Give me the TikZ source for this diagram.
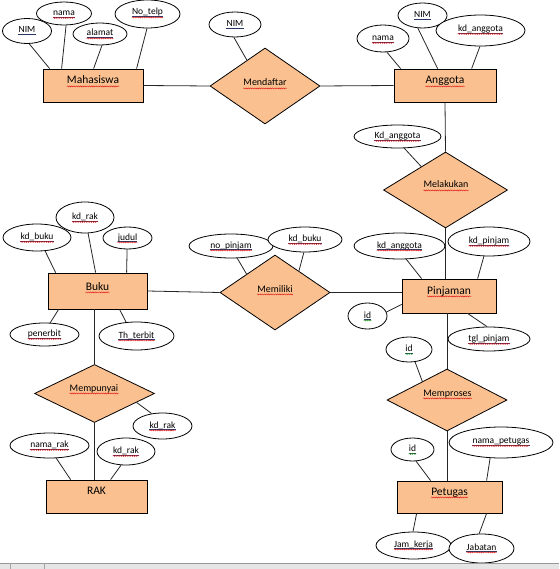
\documentclass[tikz,border=0pt]{standalone}
\usepackage{fontspec}
\setmainfont{Carlito}
\usetikzlibrary{shapes.geometric,decorations.pathmorphing}
\definecolor{erfill}{RGB}{250,192,144}
\definecolor{ulc}{RGB}{40,55,100}
\definecolor{wvred}{RGB}{225,25,25}
\definecolor{wvgreen}{RGB}{40,150,40}
\begin{document}
\begin{tikzpicture}[x=1pt,y=-1pt,
  ent/.style={rectangle, draw=black, fill=erfill, line width=0.8pt, inner sep=0pt},
  rel/.style={diamond, draw=black, fill=erfill, line width=0.8pt, inner sep=0pt},
  attr/.style={ellipse, draw=black, fill=white, line width=0.8pt, inner sep=0pt},
  etxt/.style={anchor=base, inner sep=0pt, font=\fontsize{11.5}{13}\selectfont},
  rtxt/.style={anchor=base, inner sep=0pt, font=\fontsize{10}{12}\selectfont},
  atxt/.style={anchor=base, inner sep=0pt, font=\fontsize{9.5}{11}\selectfont},
  conn/.style={draw=black!85, line width=0.8pt},
  uline/.style={draw=ulc, line width=0.5pt},
  rwave/.style={draw=wvred, line width=0.45pt, decorate, decoration={snake, amplitude=0.55pt, segment length=2.2pt}},
  gwave/.style={draw=wvgreen, line width=0.45pt, decorate, decoration={snake, amplitude=0.55pt, segment length=2.2pt}}
]
\useasboundingbox (0,0) rectangle (559,569);
\fill[white] (0,0) rectangle (559,569);

% entities
\node[ent, minimum width=100, minimum height=33] (mhs) at (93,85.5) {};
\node[ent, minimum width=102, minimum height=33] (ang) at (445,85.5) {};
\node[ent, minimum width=99, minimum height=36] (buku) at (97.5,291) {};
\node[ent, minimum width=94, minimum height=34] (pinj) at (449,296) {};
\node[ent, minimum width=101, minimum height=33] (rak) at (96.5,496.5) {};
\node[ent, minimum width=105, minimum height=32] (pet) at (449.5,497) {};

% relationships
\node[rel, minimum width=110, minimum height=76] (mendaftar) at (265,86) {};
\node[rel, minimum width=124, minimum height=76] (melakukan) at (445.5,190) {};
\node[rel, minimum width=110, minimum height=75] (memiliki) at (275,292.5) {};
\node[rel, minimum width=120, minimum height=62] (memproses) at (447,400) {};
\node[rel, minimum width=120, minimum height=58] (mempunyai) at (94.5,393.5) {};

% attributes
\node[attr, minimum width=49, minimum height=25] (mnim) at (27,31) {};
\node[attr, minimum width=55, minimum height=23] (mnama) at (64,13.5) {};
\node[attr, minimum width=54, minimum height=22] (malamat) at (100,34) {};
\node[attr, minimum width=65, minimum height=28] (mnotelp) at (147.5,14) {};
\node[attr, minimum width=52, minimum height=25] (dnim) at (235,24.5) {};
\node[attr, minimum width=52, minimum height=27] (anama) at (383,38.5) {};
\node[attr, minimum width=49, minimum height=25] (anim) at (422.5,15.5) {};
\node[attr, minimum width=89, minimum height=31] (akd) at (480.5,30.5) {};
\node[attr, minimum width=87, minimum height=23] (lkd) at (397.5,136.5) {};
\node[attr, minimum width=68, minimum height=27] (bkdbuku) at (37,237.5) {};
\node[attr, minimum width=58, minimum height=31] (bkdrak) at (85,217.5) {};
\node[attr, minimum width=49, minimum height=22] (bjudul) at (127.5,238) {};
\node[attr, minimum width=69, minimum height=23] (bpenerbit) at (44.5,334.5) {};
\node[attr, minimum width=75, minimum height=28] (bth) at (136.5,336) {};
\node[attr, minimum width=84, minimum height=24] (minop) at (231,246) {};
\node[attr, minimum width=74, minimum height=25] (mikdbuku) at (305,239.5) {};
\node[attr, minimum width=91, minimum height=26] (pkdang) at (399.5,246) {};
\node[attr, minimum width=82, minimum height=29] (pkdpin) at (489,241.5) {};
\node[attr, minimum width=39, minimum height=26] (pid) at (367.5,316) {};
\node[attr, minimum width=82, minimum height=24] (ptgl) at (489,339) {};
\node[attr, minimum width=46, minimum height=25] (mpid) at (409,349.5) {};
\node[attr, minimum width=59, minimum height=26] (mukdrak) at (162.5,426) {};
\node[attr, minimum width=79, minimum height=25] (rnama) at (49.5,445.5) {};
\node[attr, minimum width=58, minimum height=27] (rkdrak) at (126,451.5) {};
\node[attr, minimum width=43, minimum height=23] (peid) at (412.5,449.5) {};
\node[attr, minimum width=104, minimum height=31] (penama) at (501,442.5) {};
\node[attr, minimum width=75, minimum height=27] (pejam) at (413.5,545.5) {};
\node[attr, minimum width=65, minimum height=29] (pejab) at (481.5,548.5) {};

% connectors
\draw[conn] (mnim.-80) -- ([xshift=7pt]mhs.north west);
\draw[conn] (mnama.-80) -- ([xshift=19pt]mhs.north west);
\draw[conn] (malamat.-80) -- ([xshift=51pt]mhs.north west);
\draw[conn] (mnotelp.-92) -- ([xshift=94pt]mhs.north west);
\draw[conn] (mhs.east) -- (mendaftar.west);
\draw[conn] (mendaftar.east) -- (ang.west);
\draw[conn] (dnim.-95) -- (mendaftar.125);
\draw[conn] (anama.-74) -- ([xshift=7pt]ang.north west);
\draw[conn] (anim.-110) -- ([xshift=44pt]ang.north west);
\draw[conn] (akd.-92) -- ([xshift=78pt]ang.north west);
\draw[conn] (ang.south) -- (melakukan.north);
\draw[conn] (lkd.-60) -- (melakukan.136);
\draw[conn] (melakukan.south) -- (melakukan.south |- pinj.north);
\draw[conn] (pkdang.-63) -- ([xshift=20pt]pinj.north west);
\draw[conn] (pkdpin.-109) -- ([xshift=76pt]pinj.north west);
\draw[conn] (buku.east) -- (memiliki.west);
\draw[conn] (memiliki.east) -- (memiliki.east -| pinj.west);
\draw[conn] (pid.12) -- ([yshift=9pt]pinj.south west);
\draw[conn] (ptgl.99) -- ([xshift=66pt]pinj.south west);
\draw[conn] (memproses.north |- pinj.south) -- (memproses.north);
\draw[conn] (mpid.-64) -- (memproses.143);
\draw[conn] (memproses.south) -- (memproses.south |- pet.north);
\draw[conn] (peid.-73) -- ([xshift=34pt]pet.north west);
\draw[conn] (penama.-125) -- ([xshift=90pt]pet.north west);
\draw[conn] (pejam.92) -- ([xshift=20pt]pet.south west);
\draw[conn] (pejab.99) -- ([xshift=90pt]pet.south west);
\draw[conn] (bkdbuku.-59) -- ([xshift=8pt]buku.north west);
\draw[conn] (bkdrak.-79) -- ([xshift=48pt]buku.north west);
\draw[conn] (bjudul.-92) -- ([xshift=79pt]buku.north west);
\draw[conn] (bpenerbit.64) -- ([xshift=11pt]buku.south west);
\draw[conn] (bth.127) -- ([xshift=72pt]buku.south west);
\draw[conn] (mempunyai.north |- buku.south) -- (mempunyai.north);
\draw[conn] (mukdrak.131) -- (mempunyai.-12);
\draw[conn] (mempunyai.south) -- (mempunyai.south |- rak.north);
\draw[conn] (rnama.-62) -- ([xshift=25pt]rak.north west);
\draw[conn] (rkdrak.-110) -- ([xshift=65pt]rak.north west);
\draw[conn] (minop.-63) -- (memiliki.147);
\draw[conn] (mikdbuku.-95) -- (memiliki.42);

% entity texts
\node[etxt] (mhsT) at (93,84) {Mahasiswa};
\node[etxt] (angT) at (445,84) {Anggota};
\node[etxt] (bukuT) at (97.5,290) {Buku};
\node[etxt] (pinjT) at (449,294) {Pinjaman};
\node[etxt] (rakT) at (96.5,494) {RAK};
\node[etxt] (petT) at (449.5,495) {Petugas};

% relationship texts
\node[rtxt] (mendaftarT) at (265,86) {Mendaftar};
\node[rtxt] (melakukanT) at (446,188) {Melakukan};
\node[rtxt] (memilikiT) at (275,292) {Memiliki};
\node[rtxt] (memprosesT) at (447.5,396) {Memproses};
\node[rtxt] (mempunyaiT) at (94,391) {Mempunyai};

% attribute texts
\node[atxt] (mnimT) at (27,33) {NIM};
\node[atxt] (mnamaT) at (64,15.5) {nama};
\node[atxt] (malamatT) at (100,36) {alamat};
\node[atxt] (mnotelpT) at (147.5,15) {No\_telp};
\node[atxt] (dnimT) at (235,26.5) {NIM};
\node[atxt] (anamaT) at (383,40.5) {nama};
\node[atxt] (animT) at (422.5,17.5) {NIM};
\node[atxt] (akdT) at (480.5,31.5) {kd\_anggota};
\node[atxt] (lkdT) at (397.5,138.5) {Kd\_anggota};
\node[atxt] (bkdbukuT) at (37,239.5) {kd\_buku};
\node[atxt] (bkdrakT) at (85,219.5) {kd\_rak};
\node[atxt] (bjudulT) at (127.5,240) {judul};
\node[atxt] (bpenerbitT) at (44.5,336.5) {penerbit};
\node[atxt] (bthT) at (136.5,338) {Th\_terbit};
\node[atxt] (minopT) at (231,248) {no\_pinjam};
\node[atxt] (mikdbukuT) at (305,241.5) {kd\_buku};
\node[atxt] (pkdangT) at (399.5,248) {kd\_anggota};
\node[atxt] (pkdpinT) at (489,243.5) {kd\_pinjam};
\node[atxt] (pidT) at (367.5,318) {id};
\node[atxt] (ptglT) at (489,341.5) {tgl\_pinjam};
\node[atxt] (mpidT) at (409,351.5) {id};
\node[atxt] (mukdrakT) at (162.5,428) {kd\_rak};
\node[atxt] (rnamaT) at (49.5,447.5) {nama\_rak};
\node[atxt] (rkdrakT) at (126,453.5) {kd\_rak};
\node[atxt] (peidT) at (412.5,451.5) {id};
\node[atxt] (penamaT) at (501,443.5) {nama\_petugas};
\node[atxt] (pejamT) at (413.5,547) {Jam\_kerja};
\node[atxt] (pejabT) at (481.5,550) {Jabatan};

% underlines of attribute names
\foreach \n in {mnimT,mnamaT,malamatT,mnotelpT,dnimT,anamaT,animT,akdT,lkdT,bkdbukuT,bkdrakT,bjudulT,bpenerbitT,bthT,minopT,mikdbukuT,pkdangT,pkdpinT,pidT,ptglT,mpidT,mukdrakT,rnamaT,rkdrakT,peidT,penamaT,pejamT,pejabT}
  \draw[uline] ([yshift=-1.3pt]\n.base west) -- ([yshift=-1.3pt]\n.base east);

% spell-check marks
\foreach \n in {mhsT,angT,bukuT,pinjT,petT,mendaftarT,melakukanT,memilikiT,memprosesT,mempunyaiT,mnamaT,malamatT,mnotelpT,anamaT,akdT,lkdT,bkdbukuT,bkdrakT,bjudulT,bpenerbitT,bthT,minopT,mikdbukuT,pkdangT,pkdpinT,ptglT,mukdrakT,rnamaT,rkdrakT,penamaT,pejamT,pejabT}
  \draw[rwave] ([yshift=-2.4pt]\n.base west) -- ([yshift=-2.4pt]\n.base east);
\foreach \n in {pidT,mpidT,peidT}
  \draw[gwave] ([yshift=-2.4pt]\n.base west) -- ([yshift=-2.4pt]\n.base east);

% bottom bar
\fill[black!10] (0,563) rectangle (559,569);
\draw[black!40, line width=0.6pt] (0,563.3) -- (559,563.3);
\draw[black!35, line width=0.6pt] (10,563.3) -- (10,569) (44,563.3) -- (44,569);
\end{tikzpicture}
\end{document}
